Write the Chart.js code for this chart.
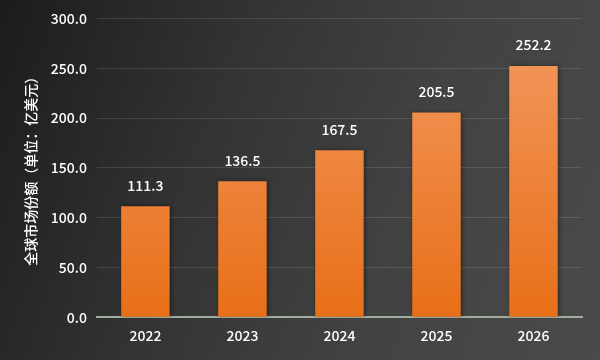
<!DOCTYPE html>
<html>
<head>
<meta charset="utf-8">
<script src="https://cdn.jsdelivr.net/npm/chart.js@4.4.0/dist/chart.umd.min.js"></script>
<style>
  html, body { margin: 0; padding: 0; }
  body {
    width: 600px; height: 360px; overflow: hidden;
    background: linear-gradient(110deg, #1c1c1c 0%, #333333 35%, #424242 65%, #4a4a4a 100%);
  }
  #wrap { width: 600px; height: 360px; }
</style>
</head>
<body>
<div id="wrap"><canvas id="marketChart"></canvas></div>
<script>
// chart data
const years = ["2022", "2023", "2024", "2025", "2026"];
const marketShare = [111.3, 136.5, 167.5, 205.5, 252.2];
const yTitle = "全球市场份额（单位：亿美元）";

const fontFamily = "'Noto Sans CJK SC', 'Noto Sans', sans-serif";

// value labels above each bar
const valueLabels = {
  id: "valueLabels",
  afterDatasetsDraw(chart) {
    const { ctx } = chart;
    const meta = chart.getDatasetMeta(0);
    ctx.save();
    ctx.fillStyle = "#ffffff";
    ctx.font = "500 14px " + fontFamily;
    ctx.textAlign = "center";
    ctx.textBaseline = "bottom";
    meta.data.forEach((bar, i) => {
      ctx.fillText(marketShare[i].toFixed(1), bar.x, bar.y - 14);
    });
    ctx.restore();
  }
};

// soft shadow behind the bars
const barShadow = {
  id: "barShadow",
  beforeDatasetsDraw(chart) {
    chart.ctx.save();
    chart.ctx.shadowColor = "rgba(0,0,0,0.45)";
    chart.ctx.shadowBlur = 4;
    chart.ctx.shadowOffsetX = 1;
  },
  afterDatasetsDraw(chart) {
    chart.ctx.restore();
  }
};

const ctx = document.getElementById("marketChart");

new Chart(ctx, {
  type: "bar",
  data: {
    labels: years,
    datasets: [
      {
        data: marketShare,
        backgroundColor: (c) => {
          const area = c.chart.chartArea;
          if (!area) return "#ec7c33";
          const g = c.chart.ctx.createLinearGradient(0, area.top, 0, area.bottom);
          g.addColorStop(0, "#f39a62");
          g.addColorStop(1, "#e86f18");
          return g;
        },
        barPercentage: 0.5,
        categoryPercentage: 1.0,
      },
    ],
  },
  options: {
    responsive: true,
    maintainAspectRatio: false,
    animation: false,
    layout: { padding: { top: 12, right: 18, left: 18, bottom: 6 } },
    plugins: {
      legend: { display: false },
      tooltip: { enabled: false },
    },
    scales: {
      x: {
        grid: { display: false, drawTicks: false },
        border: { color: "#9fae9f", width: 2 },
        ticks: {
          color: "#ffffff",
          padding: 10,
          font: { family: fontFamily, size: 14, weight: "500" },
        },
      },
      y: {
        min: 0,
        max: 300,
        ticks: {
          stepSize: 50,
          color: "#ffffff",
          padding: 10,
          callback: (v) => v.toFixed(1),
          font: { family: fontFamily, size: 14, weight: "500" },
        },
        grid: { color: "rgba(255,255,255,0.12)", drawTicks: false },
        border: { display: false },
        title: {
          display: true,
          text: yTitle,
          color: "#ffffff",
          padding: { bottom: 2 },
          font: { family: fontFamily, size: 14, weight: "500" },
        },
      },
    },
  },
  plugins: [barShadow, valueLabels],
});
</script>
</body>
</html>
